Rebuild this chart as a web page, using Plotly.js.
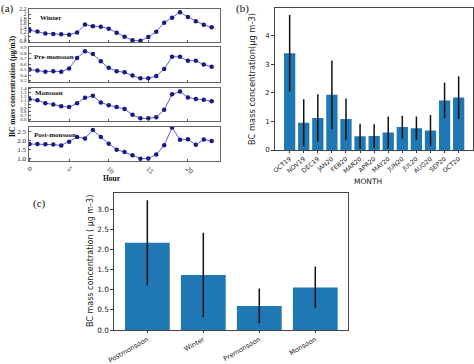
<!DOCTYPE html>
<html><head><meta charset="utf-8">
<script src="https://cdn.plot.ly/plotly-3.0.1.min.js"></script>
<style>html,body{margin:0;padding:0;background:#fff}</style>
</head><body><div id="chart" style="width:474px;height:364px"></div>
<script>
// ---- Panel (a): diurnal variation ----
const hours = [0,1,2,3,4,5,6,7,8,9,10,11,12,13,14,15,16,17,18,19,20,21,22,23];
const winter = [1.30,1.24,1.15,1.13,1.12,1.10,1.19,1.54,1.47,1.45,1.36,1.18,1.01,0.86,0.83,1.00,1.23,1.62,1.84,2.08,1.87,1.69,1.53,1.42];
const premonsoon = [0.50,0.48,0.46,0.47,0.46,0.52,0.71,0.83,0.78,0.65,0.53,0.47,0.45,0.39,0.34,0.34,0.38,0.51,0.73,0.73,0.66,0.66,0.59,0.55];
const monsoon = [1.12,1.10,1.02,0.99,0.94,0.92,1.02,1.16,1.21,1.04,0.97,0.92,0.87,0.72,0.63,0.63,0.66,0.85,1.25,1.32,1.17,1.13,1.11,1.07];
const postmonsoon = [1.82,1.82,1.81,1.79,1.74,1.95,2.20,2.13,2.59,2.20,1.84,1.51,1.38,1.21,1.02,1.03,1.24,1.76,2.72,2.05,2.08,1.78,2.07,1.99];
const seasonNames = ['Winter','Pre-monsoon','Monsoon','Post-monsoon'];

// ---- Panel (b): monthly means ----
const months = ['OCT19','NOV19','DEC19','JAN20','FEB20','MAR20','APR20','MAY20','JUN20','JUL20','AUG20','SEP20','OCT20'];
const monthMean = [3.38,0.95,1.12,1.93,1.08,0.48,0.49,0.61,0.80,0.76,0.68,1.73,1.83];
const monthErr = [1.34,0.82,0.83,1.20,0.72,0.44,0.41,0.56,0.40,0.41,0.54,0.62,0.75];

// ---- Panel (c): seasonal means ----
const seasons = ['Postmonsoon','Winter','Premonsoon','Monsoon'];
const seasonMean = [2.17,1.37,0.60,1.06];
const seasonErr = [1.06,1.05,0.43,0.52];

const W = 474, H = 364;
const px = (a,b) => [a/W, b/W];
const py = (top,bottom) => [1-bottom/H, 1-top/H];

const serif = 'Liberation Serif, Times New Roman, serif';
const sans = 'DejaVu Sans, sans-serif';
const lineCol = 'rgb(95,95,220)';
const markCol = 'rgb(25,25,135)';
const barCol = '#1f77b4';

const aSeries = [winter, premonsoon, monsoon, postmonsoon];
const traces = [];
aSeries.forEach((s,i) => {
  const k = i===0 ? '' : String(i+1);
  traces.push({x: hours, y: s, type:'scatter', mode:'lines+markers',
    xaxis:'x'+k, yaxis:'y'+k,
    line:{color:lineCol, width:1}, marker:{color:markCol, size:4.5}, showlegend:false, hoverinfo:'skip'});
});
traces.push({x: months, y: monthMean, type:'bar', xaxis:'x5', yaxis:'y5', width:0.8,
  marker:{color:barCol}, error_y:{type:'data', array: monthErr, visible:true, color:'#111', thickness:1.5, width:0},
  showlegend:false});
traces.push({x: seasons, y: seasonMean, type:'bar', xaxis:'x6', yaxis:'y6', width:0.8,
  marker:{color:barCol}, error_y:{type:'data', array: seasonErr, visible:true, color:'#111', thickness:1.5, width:0},
  showlegend:false});

const aX = px(28.5, 220);
const aRows = [
  {dom: py(9, 42), range:[0.78, 2.22], dtick:0.2, fmt:''},
  {dom: py(47, 82), range:[0.273, 0.909], dtick:0.1, fmt:''},
  {dom: py(87.5, 121), range:[0.561, 1.426], dtick:0.1, fmt:''},
  {dom: py(126.7, 161), range:[0.89, 2.77], dtick:0.5, fmt:'.1f'}
];
const layout = {
  width: W, height: H, margin:{l:0,r:0,t:0,b:0},
  paper_bgcolor:'#fff', plot_bgcolor:'#fff', showlegend:false,
  annotations: []
};
aRows.forEach((r,i) => {
  const k = i===0 ? '' : String(i+1);
  layout['xaxis'+k] = {domain: aX, anchor:'y'+k, range:[-0.13, 24.05], tickvals:[0,5,10,15,20],
    showticklabels: i===3, ticks:'inside', ticklen:2, tickcolor:'#555', showgrid:false, zeroline:false,
    showline:true, mirror:true, linecolor:'#666', linewidth:1,
    tickangle:45, tickfont:{family:serif, size:7, color:'#222'}};
  layout['yaxis'+k] = {domain: r.dom, anchor:'x'+k, range:r.range, dtick:r.dtick, tick0:0, tickformat:r.fmt,
    ticks:'inside', ticklen:2, tickcolor:'#555', showgrid:false, zeroline:false,
    showline:true, mirror:true, linecolor:'#666', linewidth:1,
    tickfont:{family:serif, size: i===3 ? 7 : (i===0 ? 5.5 : 5), color:'#222'}};
});
layout.xaxis5 = {domain: px(275, 473.3), anchor:'y5', range:[-1.04, 13.04], type:'category',
  ticks:'outside', ticklen:2, tickcolor:'#333', tickangle:-40, tickfont:{family:sans, size:6.2, color:'#222'},
  showline:true, mirror:true, linecolor:'#444', linewidth:1, showgrid:false, zeroline:false};
layout.yaxis5 = {domain: py(8.3, 150), anchor:'x5', range:[0, 4.95], dtick:1,
  ticks:'outside', ticklen:3, tickcolor:'#333', tickfont:{family:sans, size:7, color:'#222'},
  showline:true, mirror:true, linecolor:'#444', linewidth:1, showgrid:false, zeroline:false};
layout.xaxis6 = {domain: px(114.3, 348.3), anchor:'y6', range:[-0.59, 3.59], type:'category',
  ticks:'outside', ticklen:2, tickcolor:'#333', tickangle:-30, tickfont:{family:sans, size:6.7, color:'#222'},
  showline:true, mirror:true, linecolor:'#444', linewidth:1, showgrid:false, zeroline:false};
layout.yaxis6 = {domain: py(193, 330), anchor:'x6', range:[0, 3.41], dtick:0.5, tickformat:'.1f',
  ticks:'outside', ticklen:3, tickcolor:'#333', tickfont:{family:sans, size:7.3, color:'#222'},
  showline:true, mirror:true, linecolor:'#444', linewidth:1, showgrid:false, zeroline:false};

function ann(text, x, y, opt) {
  layout.annotations.push(Object.assign({text, x:x/W, y:1-y/H, xref:'paper', yref:'paper',
    showarrow:false, xanchor:'center', yanchor:'middle', font:{family:serif, size:8, color:'#111'}}, opt||{}));
}
// panel letters
ann('(a)', 7, 8, {font:{family:serif, size:11, color:'#111'}});
ann('(b)', 242, 8, {font:{family:serif, size:11, color:'#111'}});
ann('(c)', 39, 203, {font:{family:serif, size:11, color:'#111'}});
// panel (a) season names
const namePos = [[38,17.5],[32,57],[33,93.5],[32,135]];
seasonNames.forEach((n,i) => ann('<b>'+n+'</b>', namePos[i][0], namePos[i][1], {xanchor:'left', font:{family:serif, size:7, color:'#111'}}));
ann('<b>BC mass concentration (μg/m3)</b>', 12, 86, {textangle:-90, font:{family:serif, size:7.5, color:'#111'}});
ann('<b>Hour</b>', 112, 178, {font:{family:serif, size:7.5, color:'#111'}});
// panel (b)
ann('BC mass concentration(μg m-3)', 252, 79, {textangle:-90, font:{family:sans, size:8.3, color:'#222'}});
ann('MONTH', 368, 181, {font:{family:sans, size:7.5, color:'#222'}});
// panel (c)
ann('BC mass concentration ( μg m-3)', 90, 261, {textangle:-90, font:{family:sans, size:8, color:'#222'}});

Plotly.newPlot('chart', traces, layout, {staticPlot:true, displayModeBar:false});
</script></body></html>
